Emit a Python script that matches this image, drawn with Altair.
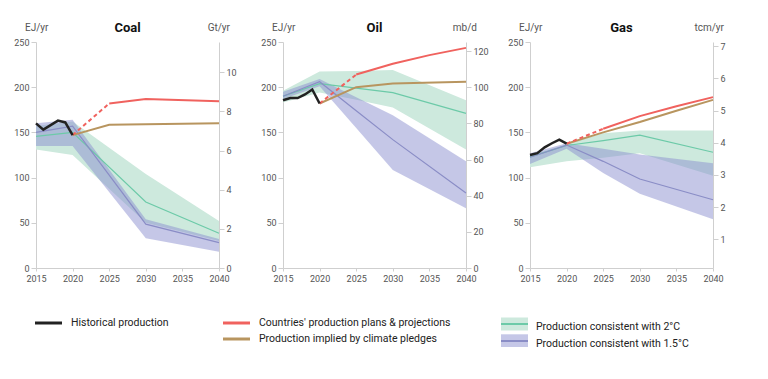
import altair as alt
import pandas as pd

# ---------------- data (EJ/yr) ----------------
HIST_YEARS = [2015, 2016, 2017, 2018, 2019, 2020]
COAL_HIST = [160, 153, 158, 163, 161, 147]
OIL_HIST = [185.5, 188, 188, 192, 197.5, 182]
GAS_HIST = [125, 127, 133.5, 138, 142, 137.5]

COAL_PLAN_YEARS = [2020, 2025, 2030, 2040]
COAL_PLAN = [147, 182, 187, 184.5]
OIL_PLAN_YEARS = [2020, 2025, 2030, 2035, 2040]
OIL_PLAN = [182, 214, 226, 235.5, 243.5]
GAS_PLAN_YEARS = [2020, 2025, 2030, 2035, 2040]
GAS_PLAN = [137.5, 154, 168, 179, 189]

COAL_PLEDGE_YEARS = [2020, 2025, 2030, 2040]
COAL_PLEDGE = [147, 158.5, 159, 160]
OIL_PLEDGE_YEARS = [2020, 2025, 2030, 2040]
OIL_PLEDGE = [182, 200, 204, 206]
GAS_PLEDGE_YEARS = [2020, 2025, 2030, 2035, 2040]
GAS_PLEDGE = [137.5, 150, 161.5, 174, 186]

COAL_BAND_YEARS = [2015, 2020, 2030, 2040]
COAL_2C_LO = [131, 125, 50, 30]
COAL_2C_HI = [157, 162, 104, 52]
COAL_2C_MID = [145.5, 150, 73, 38.5]
COAL_15_LO = [135, 135, 33, 18]
COAL_15_HI = [160, 164, 54, 32]
COAL_15_MID = [150, 157, 48.5, 28]

OIL_BAND_YEARS = [2015, 2020, 2025, 2030, 2040]
OIL_2C_LO = [183, 194, 186, 177.5, 131]
OIL_2C_HI = [196, 217.5, 218, 219, 185.5]
OIL_2C_MID = [190, 204, 199, 194, 171]
OIL_15_LO = [187, 201, 155, 108.5, 66]
OIL_15_HI = [195, 209, 189, 169, 118]
OIL_15_MID = [190, 206, 174, 142, 83]

GAS_BAND_YEARS = [2015, 2020, 2025, 2030, 2040]
GAS_2C_LO = [111.5, 118, 122, 127, 102]
GAS_2C_HI = [124.5, 137, 149, 152, 152]
GAS_2C_MID = [123, 135.5, 141, 147, 128]
GAS_15_LO = [115, 132, 105, 82, 54]
GAS_15_HI = [127, 138, 132, 125.5, 116]
GAS_15_MID = [122.5, 136, 118, 98.5, 75.5]

X_TICKS = [2015, 2020, 2025, 2030, 2035, 2040]
Y_TICKS = [0, 50, 100, 150, 200, 250]

COAL_R_DOMAIN = [0, 11.55]
COAL_R_TICKS = [0, 2, 4, 6, 8, 10]
OIL_R_DOMAIN = [0, 125]
OIL_R_TICKS = [0, 20, 40, 60, 80, 100, 120]
GAS_R_DOMAIN = [0.107, 7.13]
GAS_R_TICKS = [1, 2, 3, 4, 5, 6, 7]

LEG_LABELS = [
    "Historical production",
    "Countries' production plans & projections",
    "Production implied by climate pledges",
    "Production consistent with 2°C",
    "Production consistent with 1.5°C",
]

# ---------------- styles ----------------
FONT = "Roboto"
BLACK = "#222222"
RED = "#f0625e"
BROWN = "#b8955f"
GREEN_FILL = "#cde9dd"
GREEN_LINE = "#6ccaa8"
PURPLE_FILL = "#8c8fd0"
PURPLE_LINE = "#8a8dc6"
PURPLE_SOLID = "#c5c7e7"

W, H = 183, 226

X = alt.X("year:Q", scale=alt.Scale(domain=[2015, 2040], nice=False, zero=False),
          axis=alt.Axis(values=X_TICKS, format="d", title=None, labelFlush=False,
                        tickSize=3, labelPadding=3))
YSCALE = alt.Scale(domain=[0, 250], nice=False)
YAXIS = alt.Axis(values=Y_TICKS, title=None, tickSize=5, labelPadding=2, labelFlush=False)


def yl(field):
    return alt.Y(field, type="quantitative", scale=YSCALE, axis=YAXIS)


def panel(fuel, hist, plan_years, plan, pledge_years, pledge, band_years,
          g_lo, g_hi, g_mid, p_lo, p_hi, p_mid, runit, rdomain, rticks):
    green = pd.DataFrame({"year": band_years, "lo": g_lo, "hi": g_hi, "mid": g_mid})
    purple = pd.DataFrame({"year": band_years, "lo": p_lo, "hi": p_hi, "mid": p_mid})
    hist_df = pd.DataFrame({"year": HIST_YEARS, "v": hist})
    plan_dash = pd.DataFrame({"year": plan_years[:2], "v": plan[:2]})
    plan_solid = pd.DataFrame({"year": plan_years[1:], "v": plan[1:]})
    pledge_df = pd.DataFrame({"year": pledge_years, "v": pledge})

    g_area = alt.Chart(green).mark_area(color=GREEN_FILL, opacity=1).encode(
        x=X, y=yl("lo"), y2="hi")
    p_area = alt.Chart(purple).mark_area(color=PURPLE_FILL, opacity=0.5).encode(
        x=X, y=yl("lo"), y2="hi")
    g_line = alt.Chart(green).mark_line(color=GREEN_LINE, strokeWidth=1.2).encode(
        x=X, y=yl("mid"))
    p_line = alt.Chart(purple).mark_line(color=PURPLE_LINE, strokeWidth=1.2).encode(
        x=X, y=yl("mid"))
    pledge_line = alt.Chart(pledge_df).mark_line(color=BROWN, strokeWidth=2).encode(
        x=X, y=yl("v"))
    plan_d = alt.Chart(plan_dash).mark_line(color=RED, strokeWidth=2, strokeDash=[4, 3]).encode(
        x=X, y=yl("v"))
    plan_s = alt.Chart(plan_solid).mark_line(color=RED, strokeWidth=2).encode(
        x=X, y=yl("v"))
    hist_line = alt.Chart(hist_df).mark_line(color=BLACK, strokeWidth=2.5).encode(
        x=X, y=yl("v"))

    t_df = pd.DataFrame({"t": [fuel]})
    title = alt.Chart(t_df).mark_text(font=FONT, fontSize=13, fontWeight="bold",
                                      color="#111", align="center", baseline="middle").encode(
        text="t:N", x=alt.value(W / 2), y=alt.value(-14))
    l_df = pd.DataFrame({"t": ["EJ/yr"]})
    lunit = alt.Chart(l_df).mark_text(font=FONT, fontSize=10, color="#555",
                                      align="left", baseline="middle").encode(
        text="t:N", x=alt.value(-11), y=alt.value(-14))
    r_df = pd.DataFrame({"t": [runit]})
    runit_t = alt.Chart(r_df).mark_text(font=FONT, fontSize=10, color="#555",
                                        align="right", baseline="middle").encode(
        text="t:N", x=alt.value(W + 11), y=alt.value(-14))

    left = alt.layer(g_area, p_area, g_line, p_line, pledge_line, plan_d, plan_s,
                     hist_line, title, lunit, runit_t)

    right = alt.Chart(pd.DataFrame({"r": rdomain})).mark_point(opacity=0).encode(
        y=alt.Y("r:Q", scale=alt.Scale(domain=rdomain, nice=False, zero=False),
                axis=alt.Axis(orient="right", values=rticks, title=None, tickSize=5,
                              labelPadding=2, labelFlush=False)))

    return alt.layer(left, right).resolve_scale(y="independent").properties(width=W, height=H)


coal = panel("Coal", COAL_HIST, COAL_PLAN_YEARS, COAL_PLAN, COAL_PLEDGE_YEARS, COAL_PLEDGE,
             COAL_BAND_YEARS, COAL_2C_LO, COAL_2C_HI, COAL_2C_MID,
             COAL_15_LO, COAL_15_HI, COAL_15_MID, "Gt/yr", COAL_R_DOMAIN, COAL_R_TICKS)
oil = panel("Oil", OIL_HIST, OIL_PLAN_YEARS, OIL_PLAN, OIL_PLEDGE_YEARS, OIL_PLEDGE,
            OIL_BAND_YEARS, OIL_2C_LO, OIL_2C_HI, OIL_2C_MID,
            OIL_15_LO, OIL_15_HI, OIL_15_MID, "mb/d", OIL_R_DOMAIN, OIL_R_TICKS)
gas = panel("Gas", GAS_HIST, GAS_PLAN_YEARS, GAS_PLAN, GAS_PLEDGE_YEARS, GAS_PLEDGE,
            GAS_BAND_YEARS, GAS_2C_LO, GAS_2C_HI, GAS_2C_MID,
            GAS_15_LO, GAS_15_HI, GAS_15_MID, "tcm/yr", GAS_R_DOMAIN, GAS_R_TICKS)

# ---------------- legend ----------------
LW, LH = 700, 40
leg_lines = pd.DataFrame({
    "x0": [-1, 187, 187], "x1": [26, 214, 214], "y": [12, 12, 28],
    "c": [BLACK, RED, BROWN],
})
leg_rects = pd.DataFrame({
    "x0": [465, 465], "x1": [492, 492], "y0": [6.5, 23.3], "y1": [19.5, 36],
    "c": [GREEN_FILL, PURPLE_SOLID], "lc": [GREEN_LINE, PURPLE_LINE], "ly": [13, 30],
})
leg_text = pd.DataFrame({
    "label": LEG_LABELS,
    "x": [35, 223, 223, 500, 500],
    "y": [12, 12, 28, 16, 33],
})
LX = alt.Scale(domain=[0, LW], nice=False, zero=False)
LY = alt.Scale(domain=[0, LH], nice=False, zero=False, reverse=True)

l_lines = alt.Chart(leg_lines).mark_rule(strokeWidth=3).encode(
    x=alt.X("x0:Q", scale=LX, axis=None), x2="x1:Q",
    y=alt.Y("y:Q", scale=LY, axis=None), color=alt.Color("c:N", scale=None))
l_rects = alt.Chart(leg_rects).mark_rect().encode(
    x=alt.X("x0:Q", scale=LX, axis=None), x2="x1:Q",
    y=alt.Y("y0:Q", scale=LY, axis=None), y2="y1:Q", color=alt.Color("c:N", scale=None))
l_rlines = alt.Chart(leg_rects).mark_rule(strokeWidth=2).encode(
    x=alt.X("x0:Q", scale=LX, axis=None), x2="x1:Q",
    y=alt.Y("ly:Q", scale=LY, axis=None), color=alt.Color("lc:N", scale=None))
l_text = alt.Chart(leg_text).mark_text(font=FONT, fontSize=10.5, color="#222",
                                       align="left", baseline="middle").encode(
    x=alt.X("x:Q", scale=LX, axis=None), y=alt.Y("y:Q", scale=LY, axis=None),
    text="label:N")
legend = alt.layer(l_lines, l_rects, l_rlines, l_text).properties(width=LW, height=LH)

top = alt.hconcat(coal, oil, gas, spacing=64, bounds="flush")
chart = alt.vconcat(top, legend, spacing=28).properties(
    padding={"left": 5, "top": 14, "right": 5, "bottom": 5}
).configure_view(stroke=None).configure_axis(
    domainColor="#cfcfcf", tickColor="#cfcfcf", labelColor="#555",
    labelFont=FONT, labelFontSize=9, grid=False
)

chart.save("out.html", embed_options={"renderer": "svg", "actions": False})
